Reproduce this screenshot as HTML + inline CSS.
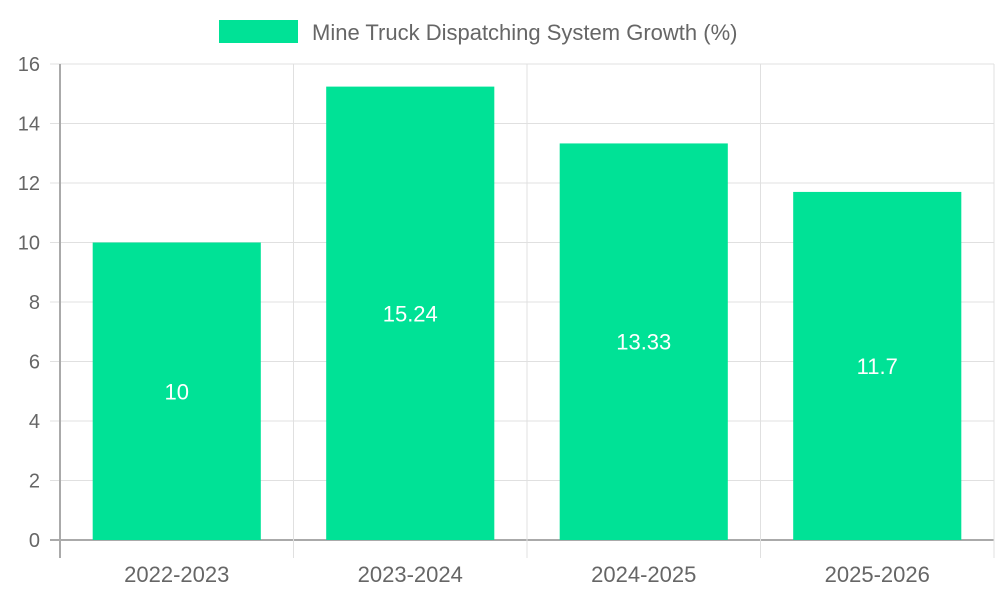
<!DOCTYPE html>
<html><head><meta charset="utf-8"><style>
body{margin:0;background:#fff;font-family:"Liberation Sans",sans-serif}
svg text{font-family:"Liberation Sans",sans-serif}
</style></head><body>
<svg id="chart" width="1000" height="600" xmlns="http://www.w3.org/2000/svg">
<g id="legend">
<rect x="219" y="20" width="79" height="23" fill="#00e296"/>
<text x="312" y="40" font-size="22" fill="#666">Mine Truck Dispatching System Growth (%)</text>
</g>
<g id="grid"></g><g id="bars"></g><g id="axes"></g>
</svg>
<script>
const categories = ["2022-2023","2023-2024","2024-2025","2025-2026"];
const values = [10, 15.24, 13.33, 11.7];
const yTicks = [0,2,4,6,8,10,12,14,16];
const L=60,R=994,T=64,B=540,yMax=16;
const NS="http://www.w3.org/2000/svg";
const y=v=>B-(v/yMax)*(B-T);
const bw=(R-L)/categories.length;
const x=i=>L+bw*i;
function mk(tag,attrs,parent,text){const e=document.createElementNS(NS,tag);for(const k in attrs)e.setAttribute(k,attrs[k]);if(text!==undefined)e.textContent=text;document.getElementById(parent).appendChild(e);return e;}
yTicks.forEach(t=>{
  const l=mk('line',{x1:50,x2:R,y1:y(t),y2:y(t),stroke:t===0?'#aaa':'#e0e0e0','stroke-width':t===0?2:1},'grid');
  
  
  const tx=mk('text',{x:40,y:y(t)+7,'text-anchor':'end','font-size':20,fill:'#666'},'axes',String(t));
  
  
});
for(let i=0;i<=categories.length;i++){
  const l=mk('line',{x1:x(i),x2:x(i),y1:T,y2:558,stroke:i===0?'#aaa':'#e0e0e0','stroke-width':i===0?2:1},'grid');
  
  
}
categories.forEach((c,i)=>{
  const cx=x(i)+bw/2,w=bw*0.72;
  const r=mk('rect',{x:cx-w/2,y:y(values[i]),width:w,height:B-y(values[i]),fill:'#00e296'},'bars');
  
  
  const v=mk('text',{x:cx,y:(y(values[i])+B)/2+8,'text-anchor':'middle','font-size':22,fill:'#fff'},'bars',String(values[i]));
  
  
  const t=mk('text',{x:cx,y:582,'text-anchor':'middle','font-size':22,fill:'#666'},'axes',c);
  
  
});
</script>
</body></html>
